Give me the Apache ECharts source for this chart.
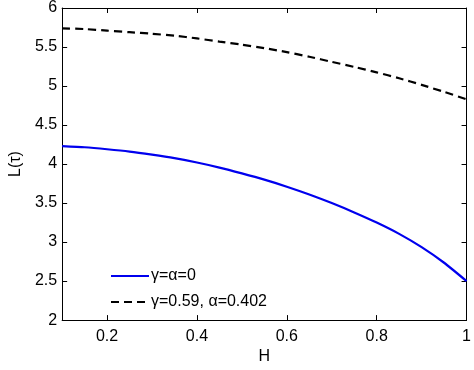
<!DOCTYPE html>
<html>
<head>
<meta charset="utf-8">
<script src="https://cdn.jsdelivr.net/npm/echarts@6/dist/echarts.min.js"></script>
<style>html,body{margin:0;padding:0;background:#fff;}#c{width:474px;height:370px;}</style>
</head>
<body>
<div id="c"></div>
<script>
const H = [0.1,0.15,0.2,0.25,0.3,0.35,0.4,0.45,0.5,0.55,0.6,0.65,0.7,0.75,0.8,0.85,0.9,0.95,1.0];
const L_zero = [4.23,4.215,4.19,4.16,4.12,4.075,4.02,3.955,3.88,3.80,3.71,3.61,3.50,3.38,3.25,3.105,2.935,2.735,2.5];
const L_param = [5.74,5.73,5.71,5.69,5.67,5.645,5.61,5.57,5.53,5.485,5.435,5.375,5.31,5.245,5.175,5.10,5.015,4.925,4.83];
const xTicks = [0.2,0.4,0.6,0.8,1];
const seriesNames = ['γ=α=0','γ=0.59, α=0.402'];

const font = 'Liberation Sans, Arial, Helvetica, sans-serif';
const fmt = v => String(Math.round(v*10)/10);
const chart = echarts.init(document.getElementById('c'), null, {renderer:'canvas'});
const axLine = {show:true, lineStyle:{color:'#000', width:1}};
function xAx(pos, labels){
  return {type:'value', position:pos, min:0.1, max:1, splitLine:{show:false},
    axisLine:axLine,
    axisTick:{show:true, inside:true, length:5, customValues:xTicks, lineStyle:{color:'#000'}},
    axisLabel:{show:labels, customValues:xTicks, formatter:fmt, color:'#000', fontSize:16, fontFamily:font, margin:8},
    name: labels ? 'H' : '', nameLocation:'middle', nameGap:27,
    nameTextStyle:{color:'#000', fontSize:16, fontFamily:font}};
}
function yAx(pos, labels){
  return {type:'value', position:pos, min:2, max:6, interval:0.5, splitLine:{show:false},
    axisLine:axLine,
    axisTick:{show:true, inside:true, length:5, lineStyle:{color:'#000'}},
    axisLabel:{show:labels, formatter:fmt, color:'#000', fontSize:16, fontFamily:font, margin:5},
    name: labels ? 'L(τ)' : '', nameLocation:'middle', nameGap:34,
    nameTextStyle:{color:'#000', fontSize:16, fontFamily:font}};
}
chart.setOption({
  animation:false,
  backgroundColor:'#fff',
  grid:{left:58, right:6, top:7, bottom:43},
  xAxis:[xAx('bottom', true), xAx('top', false)],
  yAxis:[yAx('left', true), yAx('right', false)],
  legend:{show:true, orient:'vertical', left:110, top:268, padding:0, itemGap:10,
    itemWidth:38, itemHeight:14,
    itemStyle:{opacity:0},
    textStyle:{color:'#000', fontSize:16, fontFamily:font, padding:[0,0,0,-3]},
    data:seriesNames},
  series:[
    {name:seriesNames[0], type:'line', showSymbol:false, symbol:'none', smooth:0.2,
     data:H.map((h,i)=>[h,L_zero[i]]), lineStyle:{color:'#0000ee', width:2.2}, itemStyle:{color:'#0000ee'}},
    {name:seriesNames[1], type:'line', showSymbol:false, symbol:'none', smooth:0.2,
     data:H.map((h,i)=>[h,L_param[i]]), lineStyle:{color:'#000', width:2.2, type:[8,5]}, itemStyle:{color:'#000'}}
  ]
});
</script>
</body>
</html>
